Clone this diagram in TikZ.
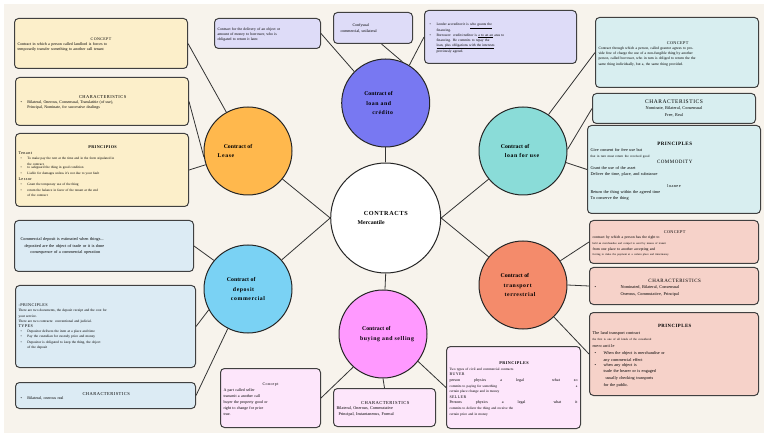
\documentclass[tikz,border=0pt]{standalone}
\usepackage{fontspec}
\setmainfont{Liberation Serif}
\newfontfamily\widefont[LetterSpace=10]{Liberation Serif}
\definecolor{paper}{HTML}{F7F3EC}
\definecolor{leaseorange}{HTML}{FFB84D}
\definecolor{leasecard}{HTML}{FCEFCA}
\definecolor{creditblue}{HTML}{7878F2}
\definecolor{creditcard}{HTML}{DEDCF8}
\definecolor{useteal}{HTML}{8ADCD8}
\definecolor{usecard}{HTML}{D8EEF0}
\definecolor{depositblue}{HTML}{7AD2F4}
\definecolor{depositcard}{HTML}{DCEBF4}
\definecolor{transportsalmon}{HTML}{F48B6B}
\definecolor{transportcard}{HTML}{F6D2C9}
\definecolor{buypink}{HTML}{FF99FF}
\definecolor{buycard}{HTML}{FDE6FB}
\newcommand\fsz[2]{\fontsize{#1}{#2}\selectfont}
\newcommand\cardtitle[1]{\par\centerline{#1}}
\newcommand\cardtext[2]{\par\noindent\parbox[t]{#1}{#2}}
\newcommand\itm[2][9pt]{\par\noindent\hbox to #1{\hskip2pt\textbullet\hss}\parbox[t]{\dimexpr\hsize-#1\relax}{\raggedright #2}}
\begin{document}
\begin{tikzpicture}[x=1pt, y=-1pt,
  hub/.style={circle, draw=black!85, line width=1pt, minimum size=88pt, inner sep=0pt},
  hubtext/.style={font=\bfseries\fsz{5.8}{9.5}, align=left},
  card/.style={draw=black!75, line width=1pt, rounded corners=4pt, anchor=north west, inner xsep=3pt, inner ysep=2pt, align=left, font=\fsz{4}{4.8}},
  cardsize/.code 2 args={\pgfmathsetlengthmacro\cardwd{#1pt-6pt}\pgfkeysalso{minimum width=#1pt, minimum height=#2pt, text width=\cardwd}},
  link/.style={draw=black!80, line width=0.8pt}]
\useasboundingbox (0,0) rectangle (768,446);
\fill[paper] (4,4) rectangle (764,433);
% contract circles
\node[hub, minimum size=110pt, fill=white, label={[hubtext, xshift=-3pt]center:{\hspace*{4pt}{\widefont\fsz{6.2}{9} CONTRACTS}\\Mercantile}}] (mid) at (385.7,218) {};
\node[hub, fill=creditblue, label={[hubtext, xshift=-7pt]center:{Contract of\\\hspace*{2pt}{\widefont loan and}\\\hspace*{8pt}{\widefont crédito}}}] (credit) at (385.7,103) {};
\node[hub, fill=leaseorange, label={[hubtext, xshift=-13pt]center:{\hspace*{6pt}Contract of\\{\widefont Lease}}}] (lease) at (248,151) {};
\node[hub, fill=useteal, label={[hubtext, xshift=-3pt]center:{Contract of\\\hspace*{4pt}{\widefont loan for use}}}] (loanuse) at (523,151) {};
\node[hub, fill=depositblue, label={[hubtext, xshift=-2pt]center:{Contract of\\\hspace*{6pt}{\widefont deposit}\\\hspace*{4pt}{\widefont commercial}}}] (deposit) at (248,289) {};
\node[hub, fill=transportsalmon, label={[hubtext, xshift=-5pt]center:{Contract of\\\hspace*{3pt}{\widefont transport}\\\hspace*{4pt}{\widefont terrestrial}}}] (transport) at (523,285) {};
\node[hub, fill=buypink, label={[hubtext, xshift=4pt]center:{\hspace*{2pt}Contract of\\{\widefont buying and selling}}}] (buy) at (383,334) {};
% lease cards
\node[card, fill=leasecard, cardsize={173}{50}] (lconc) at (14,18) {\cardtitle{\widefont CONCEPT}\cardtext{95pt}{Contract in which a person called landlord is forces to temporarily transfer something to another call tenant}};
\node[card, fill=leasecard, cardsize={173}{48}] (lchar) at (15,77) {\cardtitle{\widefont\fsz{4.5}{6} CHARACTERISTICS}\itm{Bilateral, Onerous, Consensual, Translatitie (of use),\\Principal, Nominate, for successive dealings}};
\node[card, fill=leasecard, cardsize={173}{73}, font=\fsz{3.4}{5.6}] (lprin) at (15,133) {\cardtitle{\widefont\bfseries\fsz{4.2}{5.6} PRINCIPIOS}{\widefont\fsz{4.2}{5.6}Tenant}\itm{To make pay the rent at the time and in the form stipulated in\\the contract.}\itm{to safeguard the thing in good condition}\itm{Liable for damages unless it's not due to your fault}\par{\widefont\fsz{4.2}{5.6}Lessor}\itm{Grant the temporary use of the thing}\itm{return the balance in favor of the tenant at the end\\of the contract}};
% deposit cards
\node[card, fill=depositcard, cardsize={179}{51}, font=\fsz{4.3}{6.5}] (dconc) at (14,220) {\hspace*{3pt}Commercial deposit is estimated when things...\\\hspace*{7pt}deposited are the object of trade or it is done\\\hspace*{13pt}consequence of a commercial operation};
\node[card, fill=depositcard, cardsize={180}{82}, font=\fsz{3.5}{5.2}] (dprin) at (15,285) {{\widefont\fsz{4.2}{5.2}-PRINCIPLES}\\There are two documents, the deposit receipt and the cost for\\your service.\\There are two contracts: conventional and judicial.\\{\widefont\fsz{4.2}{5.2}TYPES}\itm{Depositor delivers the item at a place and time}\itm{Pay the custodian for custody price and money}\itm{Depositor is obligated to keep the thing, the object\\of the deposit}\par\vspace{10pt}};
\node[card, fill=depositcard, cardsize={180}{26}] (dchar) at (15,382) {\cardtitle{\widefont\fsz{4.5}{6} CHARACTERISTICS}\itm{Bilateral, onerous real}};
% loan and credit cards
\node[card, fill=creditcard, cardsize={106}{30}, font=\fsz{3.8}{5}] (cconc) at (214,18) {\cardtext{64pt}{Contract for the delivery of an object or amount of money to borrower, who is obligated to return it later.}};
\node[card, fill=creditcard, cardsize={79}{31}, font=\fsz{4}{6}] (cchar) at (333,12) {\hspace*{16pt}Confysual\\\hspace*{4pt}commercial, unilateral};
\node[card, fill=creditcard, cardsize={152}{53}, font=\fsz{3.6}{5}] (cprin) at (424,10) {\itm{Lender accreditor:it is \underline{who grants the}\\financing.}\itm{Borrower: credit/creditor is \underline{a to an an} area to\\financing. He commits to repay the\\\underline{loan, plus obligations with the interests}\\previously agreed.}};
% loan for use cards
\node[card, fill=usecard, cardsize={163}{70}, font=\fsz{3.7}{5.2}] (uconc) at (595,17) {\cardtitle{\widefont\fsz{4.2}{5.6} CONCEPT}\cardtext{98pt}{Contract through which a person, called grantor agrees to provide free of charge the use of a non-fungible thing by another person, called borrower, who in turn is obliged to return the the same thing individually, but a, the same thing provided.}};
\node[card, fill=usecard, cardsize={163}{30}, align=center, font=\fsz{4.3}{6.5}] (uchar) at (592,93) {{\widefont\fsz{5.5}{6.5}CHARACTERISTICS}\\Nominate, Bilateral, Consensual\\Free, Real};
\node[card, fill=usecard, cardsize={173}{88}, font=\fsz{4.3}{6}] (uprin) at (587,125) {\cardtitle{\widefont\bfseries\fsz{5}{6} PRINCIPLES}\makebox[84pt][s]{Give consent for free use but}\\{\fsz{3.3}{5}that in turn must return the received good}\cardtitle{\widefont\fsz{5}{6} COMMODITY}Grant the use of the asset\\Deliver the time, place, and substance\\[6pt]\cardtitle{\widefont loanee}Return the thing within the agreed time\\To conserve the thing};
% transport cards
\node[card, fill=transportcard, cardsize={169}{43}, font=\fsz{3.8}{5.6}] (tconc) at (589,220) {\cardtitle{\widefont\fsz{4.2}{5.6} CONCEPT}contract by which a person has the right to\\{\fsz{2.8}{4}hold an merchandise and compel to send by means of transit}\\\makebox[85pt][s]{from one place to another accepting and}\\{\fsz{2.8}{4}forcing to make the payment at a certain place and time/money}};
\node[card, fill=transportcard, cardsize={169}{37}, font=\fsz{4.3}{6.5}] (tchar) at (589,267) {\cardtitle{\widefont\fsz{5}{6.5} CHARACTERISTICS}\itm[28pt]{Nominated, Bilateral, Consensual\\Onerous, Commutative, Principal}};
\node[card, fill=transportcard, cardsize={169}{83}, font=\fsz{4.3}{6.8}] (tprin) at (589,312) {\cardtitle{\widefont\bfseries\fsz{4.8}{6.8} PRINCIPLES}The land transport contract\\{\fsz{3}{4}the first is one of all kinds of the considered}\\{\widefont mercantile}\itm[11pt]{When the object is merchandise or\\any commercial effect}\itm[11pt]{when any object is\\trade the bearer or is engaged\\\hspace*{2pt}usually checking transports\\for the public.}};
% buying and selling cards
\node[card, fill=buycard, cardsize={100}{59}, font=\fsz{4}{6}] (bconc) at (220,368) {\cardtitle{\widefont Concept}A part called seller\\\makebox[81pt][s]{transmit a another call}\\buyer the property good or\\\makebox[51pt][s]{right to change for price}\\true.};
\node[card, fill=buycard, cardsize={102}{38}, font=\fsz{4.2}{5.8}] (bchar) at (333,388) {\cardtitle{\widefont\fsz{4.6}{5.8} CHARACTERISTICS}Bilateral, Onerous, Commutative\\\hspace*{2pt}Principal, Instantaneous, Formal};
\node[card, fill=buycard, cardsize={134}{82}, font=\fsz{3.5}{5.6}] (bprin) at (446,346) {\cardtitle{\widefont\bfseries\fsz{4.2}{5.6} PRINCIPLES}Two types of civil and commercial contracts\\{\widefont\fsz{4}{5.6}BUYER}\\{\fsz{4}{5.6}person\hfill physics\hfill a\hfill legal\hfill\hfill what\hfill so}\\commits to paying for something\hfill a\\certain place change and in money\\{\widefont\fsz{4}{5.6}SELLER}\\{\fsz{4}{5.6}Persons\hfill physics\hfill a\hfill legal\hfill\hfill what\hfill it}\\commits to deliver the thing and receive the\\certain price and in money\par\vspace{18pt}};
% spokes
\draw[link] (mid.west) -- (lease);
\draw[link] (mid.west) -- (deposit);
\draw[link] (mid.north) -- (credit);
\draw[link] (mid.south) -- (buy);
\draw[link] (mid.east) -- (loanuse);
\draw[link] (mid.east) -- (transport);
% cards to circles
\draw[link] (lconc.east) -- (lease);
\draw[link] (lchar.east) -- (lease.188);
\draw[link] (lprin.east) -- (lease.198);
\draw[link] (dconc.east) -- (deposit.140);
\draw[link] (dprin.east) -- (deposit.208);
\draw[link] (dchar.east) -- (deposit.243);
\draw[link] (cconc.east) -- (credit.135);
\draw[link] (cchar.-62) -- (credit.68);
\draw[link] (cprin.west) -- (credit.58);
\draw[link] (uconc.west) -- (loanuse.55);
\draw[link] (uchar.west) -- (loanuse.2);
\draw[link] (uprin.west) -- (loanuse.-15);
\draw[link] (tconc.west) -- (transport.33);
\draw[link] (tchar.west) -- (transport.east);
\draw[link] (tprin.west) -- (transport.-46);
\draw[link] (bconc.east) -- (buy.228);
\draw[link] (bchar.north) -- (buy.south);
\draw[link] (bprin.west) -- (buy.-38);
\end{tikzpicture}
\end{document}
